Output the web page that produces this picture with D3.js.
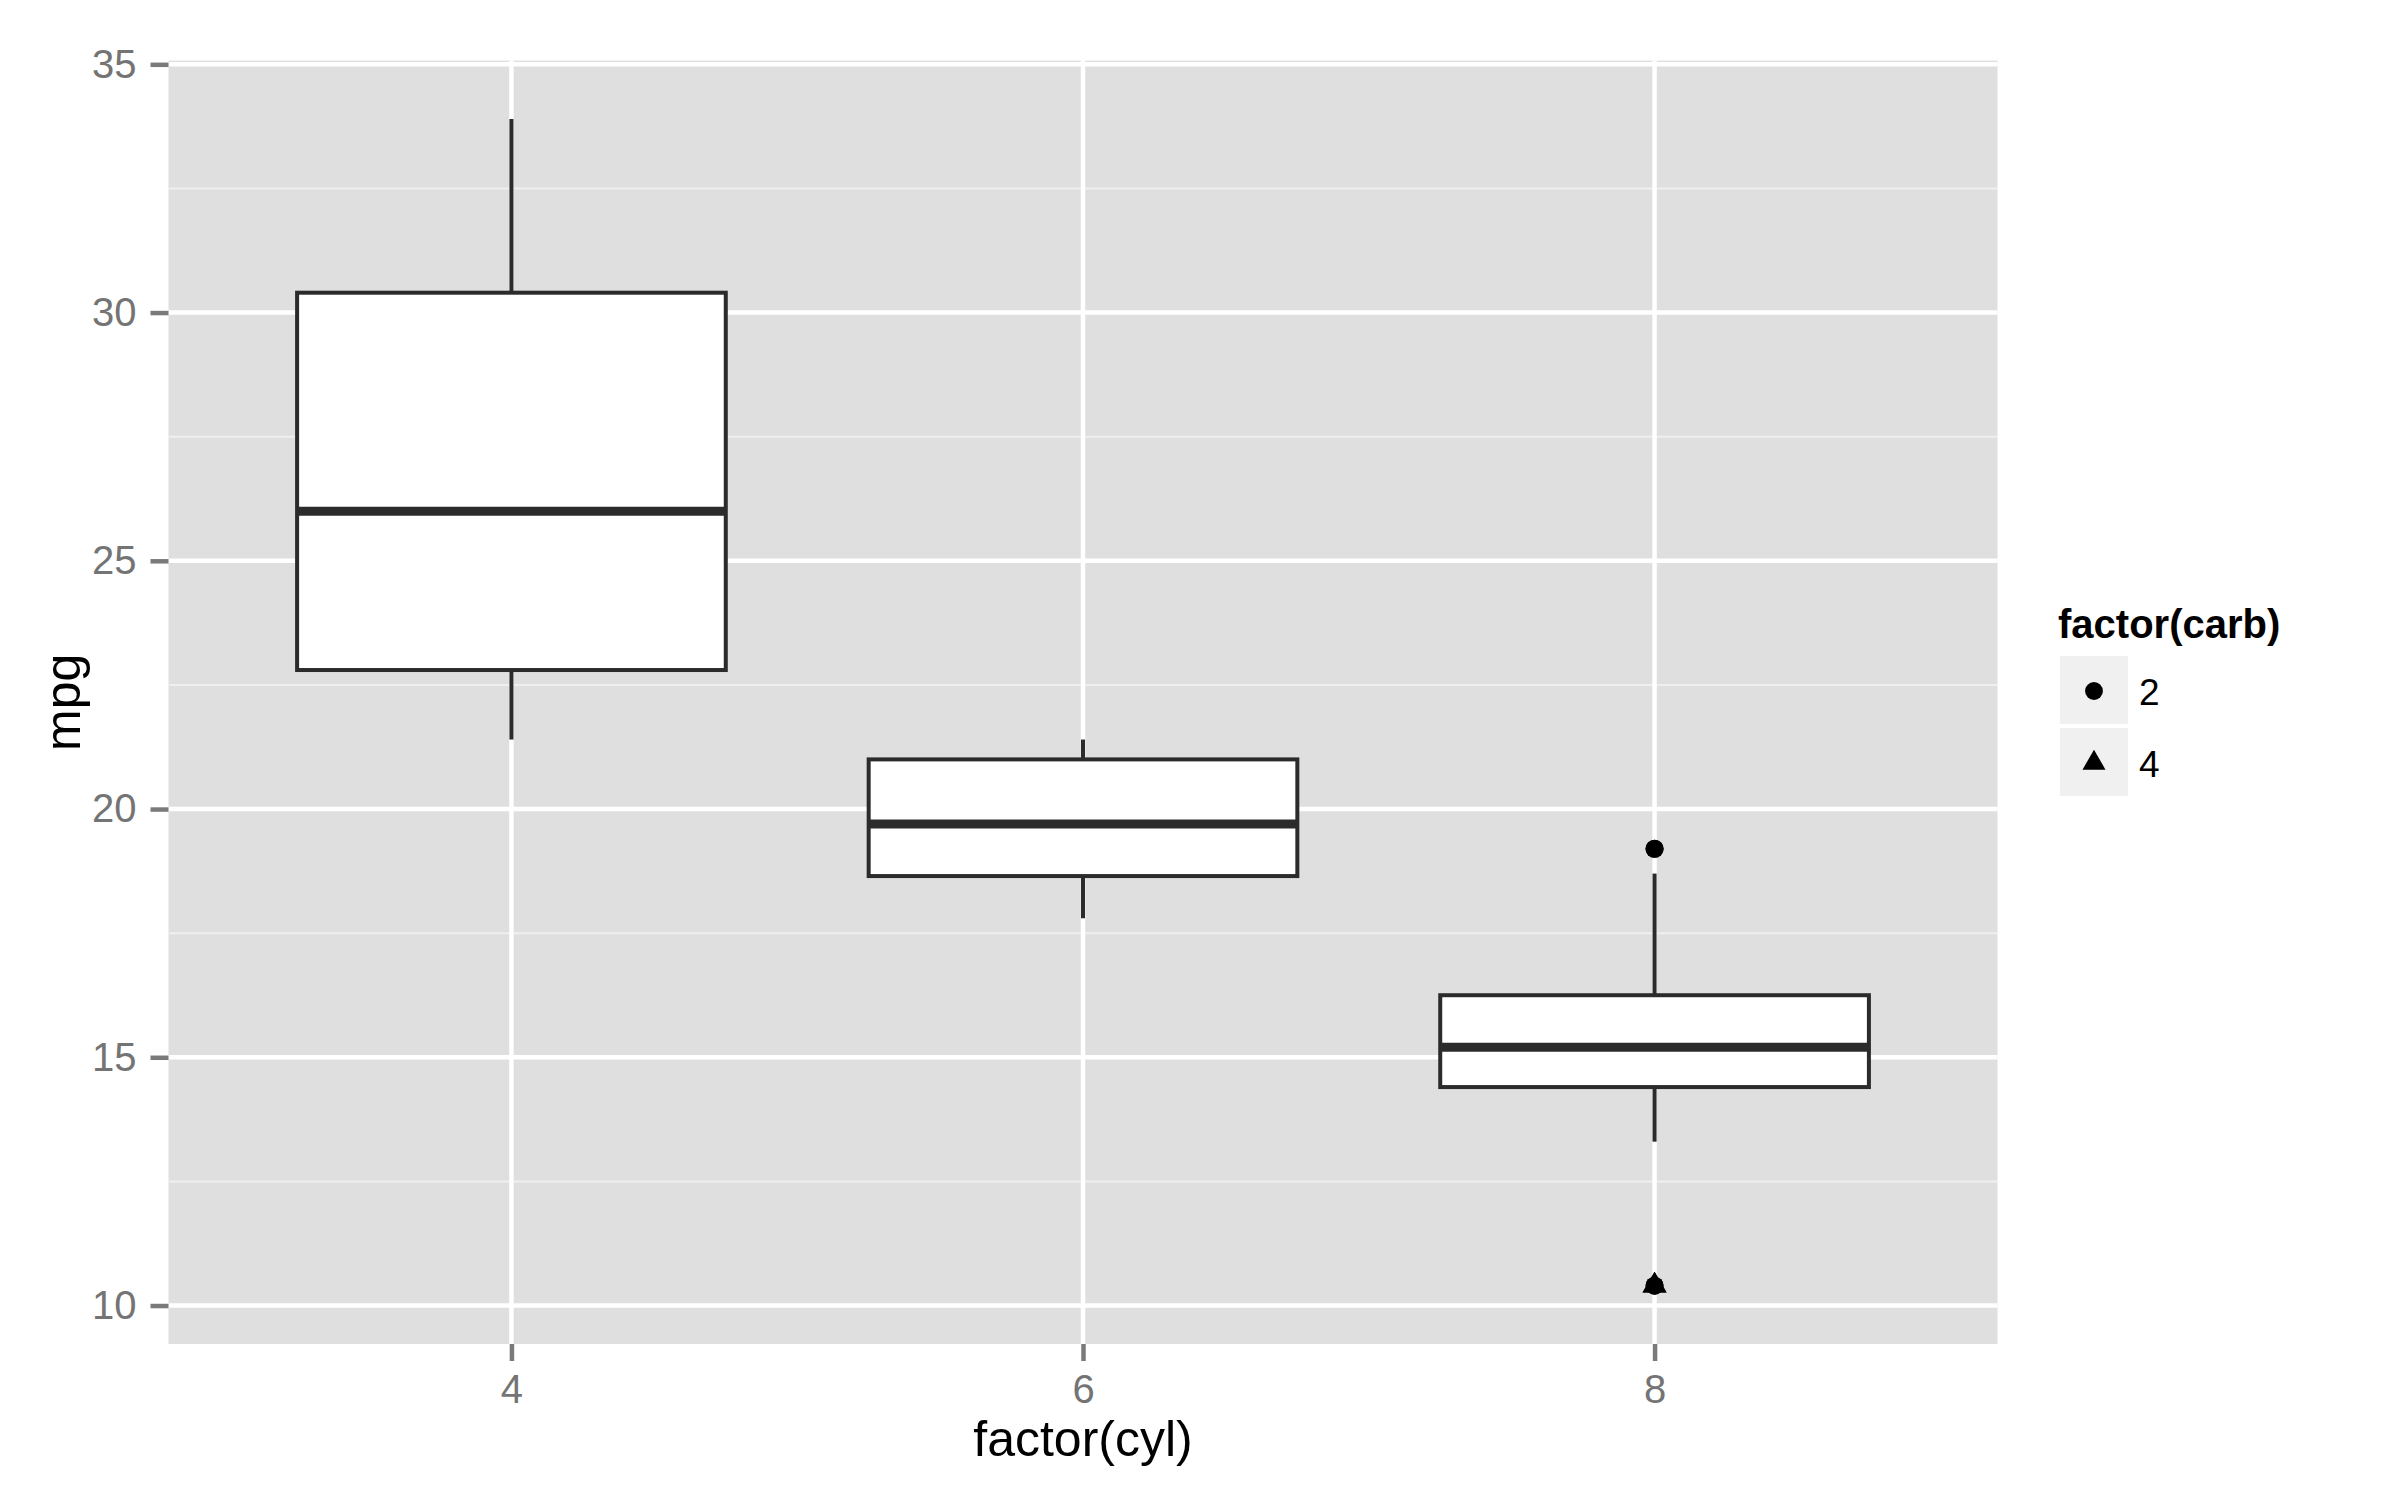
<!DOCTYPE html>
<html>
<head>
<meta charset="utf-8">
<script src="https://cdn.jsdelivr.net/npm/d3@7"></script>
<style>
  body { margin: 0; background: white; }
  svg { display: block; font-family: "Liberation Sans", Arial, Helvetica, sans-serif; }
</style>
</head>
<body>
<script>
// mtcars: mpg by factor(cyl), outliers shaped by factor(carb)
var cyls = ["4", "6", "8"];
var lowerWhisker = [21.4, 17.8, 13.3];
var q1 = [22.8, 18.65, 14.4];
var medians = [26.0, 19.7, 15.2];
var q3 = [30.4, 21.0, 16.25];
var upperWhisker = [33.9, 21.4, 18.7];

var outlierCyl = ["8", "8", "8"];
var outlierMpg = [19.2, 10.4, 10.4];
var outlierCarb = ["2", "4", "4"];

var carbLevels = ["2", "4"];
var yTicks = [10, 15, 20, 25, 30, 35];
var yMinor = [12.5, 17.5, 22.5, 27.5, 32.5];

var width = 2400;
var height = 1500;
var panel = { left: 168.5, right: 1997.5, top: 60.6, bottom: 1344 };

var svg = d3.select("body")
    .append("svg")
    .attr("width", width)
    .attr("height", height);

// ggplot style: 5% expansion on the continuous axis
var yMin = 10.4, yMax = 33.9;
var pad = (yMax - yMin) * 0.05;
var y = d3.scaleLinear()
    .domain([yMin - pad, yMax + pad])
    .range([panel.bottom, panel.top]);

// discrete axis, 0.6 step of room on each side
var x = d3.scalePoint()
    .domain(cyls)
    .range([panel.left, panel.right])
    .padding(0.6);
var boxW = x.step() * 0.75;

var shape = d3.scaleOrdinal()
    .domain(carbLevels)
    .range([d3.symbolCircle, d3.symbolTriangle]);
var shapeSize = d3.scaleOrdinal()
    .domain(carbLevels)
    .range([260, 250]);

// grey panel
svg.append("rect")
    .attr("x", panel.left)
    .attr("y", panel.top)
    .attr("width", panel.right - panel.left)
    .attr("height", panel.bottom - panel.top)
    .attr("fill", "#dfdfdf");

var grid = svg.append("g");
grid.selectAll(".minor")
    .data(yMinor)
    .enter().append("line")
    .attr("x1", panel.left).attr("x2", panel.right)
    .attr("y1", d => y(d)).attr("y2", d => y(d))
    .attr("stroke", "#efefef")
    .attr("stroke-width", 2);
grid.selectAll(".majorY")
    .data(yTicks)
    .enter().append("line")
    .attr("x1", panel.left).attr("x2", panel.right)
    .attr("y1", d => y(d)).attr("y2", d => y(d))
    .attr("stroke", "white")
    .attr("stroke-width", 4.5);
grid.selectAll(".majorX")
    .data(cyls)
    .enter().append("line")
    .attr("x1", d => x(d)).attr("x2", d => x(d))
    .attr("y1", panel.top).attr("y2", panel.bottom)
    .attr("stroke", "white")
    .attr("stroke-width", 4.5);

// boxes
var boxes = svg.append("g")
    .selectAll("g")
    .data(cyls)
    .enter().append("g");

boxes.append("line") //upper whisker
    .attr("x1", d => x(d)).attr("x2", d => x(d))
    .attr("y1", (d, i) => y(upperWhisker[i]))
    .attr("y2", (d, i) => y(q3[i]))
    .attr("stroke", "#2b2b2b")
    .attr("stroke-width", 4);
boxes.append("line") //lower whisker
    .attr("x1", d => x(d)).attr("x2", d => x(d))
    .attr("y1", (d, i) => y(lowerWhisker[i]))
    .attr("y2", (d, i) => y(q1[i]))
    .attr("stroke", "#2b2b2b")
    .attr("stroke-width", 4);
boxes.append("rect")
    .attr("x", d => x(d) - boxW / 2)
    .attr("width", boxW)
    .attr("y", (d, i) => y(q3[i]))
    .attr("height", (d, i) => y(q1[i]) - y(q3[i]))
    .attr("fill", "white")
    .attr("stroke", "#2b2b2b")
    .attr("stroke-width", 4);
boxes.append("line") //median
    .attr("x1", d => x(d) - boxW / 2).attr("x2", d => x(d) + boxW / 2)
    .attr("y1", (d, i) => y(medians[i]))
    .attr("y2", (d, i) => y(medians[i]))
    .attr("stroke", "#2b2b2b")
    .attr("stroke-width", 9);

// outliers: default dots from the boxplot, then shape by carb on top
var pts = outlierMpg.map((v, i) => ({ cyl: outlierCyl[i], mpg: v, carb: outlierCarb[i] }));
svg.append("g")
    .selectAll("circle")
    .data(pts)
    .enter().append("circle")
    .attr("cx", d => x(d.cyl))
    .attr("cy", d => y(d.mpg))
    .attr("r", 9)
    .attr("fill", "black");
svg.append("g")
    .selectAll("path")
    .data(pts)
    .enter().append("path")
    .attr("transform", d => `translate(${x(d.cyl)},${y(d.mpg)})`)
    .attr("d", d => d3.symbol().type(shape(d.carb)).size(shapeSize(d.carb))())
    .attr("fill", "black");

// axes
var yAxis = svg.append("g")
    .attr("transform", `translate(${panel.left},0)`)
    .call(d3.axisLeft(y).tickValues(yTicks).tickSize(18).tickPadding(14));
var xAxis = svg.append("g")
    .attr("transform", `translate(0,${panel.bottom})`)
    .call(d3.axisBottom(x).tickSize(17).tickPadding(14));

[yAxis, xAxis].forEach(a => {
    a.select(".domain").remove(); //no axis line in ggplot
    a.selectAll(".tick line")
        .attr("stroke", "#7a7a7a")
        .attr("stroke-width", 4.5);
    a.selectAll(".tick text")
        .attr("fill", "#747474")
        .attr("font-size", "40px")
        .attr("font-family", "Liberation Sans, Arial, sans-serif");
});

// axis titles
svg.append("text")
    .attr("x", (panel.left + panel.right) / 2)
    .attr("y", 1456)
    .attr("text-anchor", "middle")
    .attr("font-size", "50px")
    .attr("fill", "black")
    .text("factor(cyl)");
svg.append("text")
    .attr("transform", `translate(80,${(panel.top + panel.bottom) / 2}) rotate(-90)`)
    .attr("text-anchor", "middle")
    .attr("font-size", "50px")
    .attr("fill", "black")
    .text("mpg");

// legend
var legend = svg.append("g").attr("transform", "translate(2060,656)");
legend.append("text")
    .attr("x", -2)
    .attr("y", -18)
    .attr("font-size", "40px")
    .attr("font-weight", "bold")
    .attr("fill", "black")
    .text("factor(carb)");
var keys = legend.selectAll(".key")
    .data(carbLevels)
    .enter().append("g")
    .attr("transform", (d, i) => `translate(0,${i * 72})`);
keys.append("rect")
    .attr("width", 68)
    .attr("height", 68)
    .attr("fill", "#f0f0f0");
keys.append("path")
    .attr("transform", "translate(34,35)")
    .attr("d", d => d3.symbol().type(shape(d)).size(d === "2" ? 250 : 230)())
    .attr("fill", "black");
keys.append("text")
    .attr("x", 79)
    .attr("y", 49)
    .attr("font-size", "37px")
    .attr("fill", "black")
    .text(d => d);
</script>
</body>
</html>
